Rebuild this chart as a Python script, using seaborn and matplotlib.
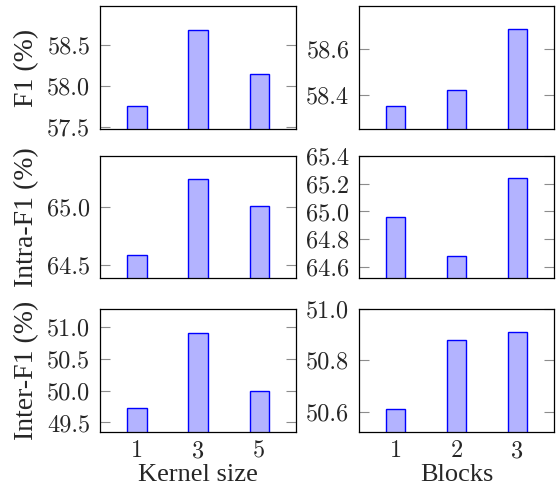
import matplotlib
matplotlib.use("Agg")
import matplotlib.pyplot as plt
import matplotlib.ticker as mticker
import seaborn as sns

# data
kernel_sizes = ["1", "3", "5"]
blocks = ["1", "2", "3"]

f1_kernel = [57.75, 58.69, 58.14]
intra_kernel = [64.58, 65.24, 65.01]
inter_kernel = [49.72, 50.91, 50.00]

f1_blocks = [58.35, 58.42, 58.69]
intra_blocks = [64.96, 64.68, 65.24]
inter_blocks = [50.61, 50.88, 50.91]

row_labels = ["F1 (%)", "Intra-F1 (%)", "Inter-F1 (%)"]

left_ticks = [[57.5, 58.0, 58.5], [64.5, 65.0], [49.5, 50.0, 50.5, 51.0]]
right_ticks = [[58.4, 58.6], [64.6, 64.8, 65.0, 65.2, 65.4], [50.6, 50.8, 51.0]]
left_lims = [(57.47, 58.98), (64.385, 65.44), (49.35, 51.28)]
right_lims = [(58.25, 58.79), (64.52, 65.40), (50.52, 51.0)]

sns.set_style("white")
# tick numbers in a TeX-like font, labels in a Times-like one
plt.rcParams["font.family"] = ["cmr10", "DejaVu Serif"]
plt.rcParams["axes.formatter.use_mathtext"] = True
label_font = ["Liberation Serif", "DejaVu Serif"]

fig = plt.figure(figsize=(5.57, 4.88), dpi=100)

fill = (0.7, 0.7, 1.0)
edge = (0.0, 0.0, 1.0)

col_left = [100 / 557, 359 / 557]
col_w = [196 / 557, 195 / 557]
row_bottom = [1 - 129 / 488, 1 - 278 / 488, 1 - 432 / 488]
row_h = [123 / 488, 122 / 488, 123 / 488]

left_vals = [f1_kernel, intra_kernel, inter_kernel]
right_vals = [f1_blocks, intra_blocks, inter_blocks]

for r in range(3):
    for c in range(2):
        ax = fig.add_axes([col_left[c], row_bottom[r], col_w[c], row_h[r]])
        cats = kernel_sizes if c == 0 else blocks
        vals = left_vals[r] if c == 0 else right_vals[r]
        sns.barplot(x=cats, y=vals, ax=ax, color=fill, saturation=1,
                    edgecolor=edge, linewidth=1.0, width=0.316)
        ax.set_xlim(-0.605, 2.6)
        ax.set_ylim(*(left_lims[r] if c == 0 else right_lims[r]))
        ax.yaxis.set_major_locator(mticker.FixedLocator(left_ticks[r] if c == 0 else right_ticks[r]))
        ax.yaxis.set_major_formatter(mticker.FormatStrFormatter("%.1f"))
        ax.tick_params(axis="y", direction="in", length=7, width=0.8, color="#8c8c8c",
                       left=True, right=True, labelsize=17.5, pad=7)
        ax.tick_params(axis="x", length=0, labelsize=17.5, pad=6)
        for s in ax.spines.values():
            s.set_visible(True)
            s.set_color("black")
            s.set_linewidth(0.9)
        if r < 2:
            ax.set_xticklabels([])
        else:
            ax.set_xlabel("Kernel size" if c == 0 else "Blocks", fontsize=19,
                          family=label_font, va="baseline")
            ax.xaxis.set_label_coords(0.5, -0.398)
        if c == 0:
            ax.set_ylabel(row_labels[r], fontsize=20, family=label_font, va="center")
            ax.yaxis.set_label_coords(-0.375, 0.5)
        else:
            ax.set_ylabel("")

plt.savefig("out.png", dpi=100)
